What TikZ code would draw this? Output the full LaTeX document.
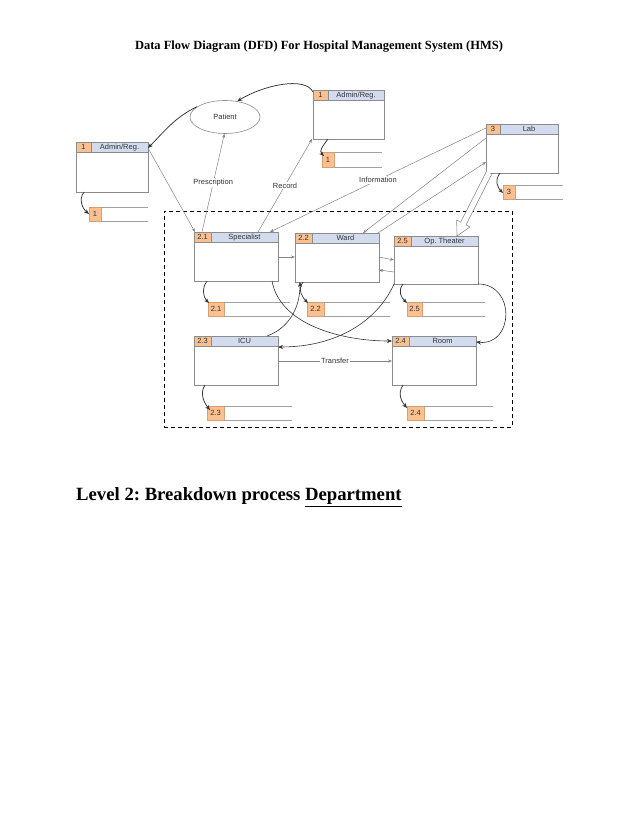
\documentclass[tikz,border=0pt]{standalone}
\usepackage{fontspec}
\setmainfont{Liberation Serif}
\newfontfamily\diagfont{Liberation Sans}
\usetikzlibrary{arrows.meta,calc,shapes.geometric}

\definecolor{hdrblue}{HTML}{D3DCEE}
\definecolor{numorange}{HTML}{FAC090}
\definecolor{numedge}{HTML}{D8A070}
\definecolor{boxgray}{HTML}{8C8C8C}
\definecolor{linegray}{HTML}{858585}
\definecolor{storegray}{HTML}{A0A0A0}
\definecolor{darkline}{HTML}{333333}
\definecolor{txtgray}{HTML}{333333}

\newcommand{\procbox}[8]{%
  \node[pbox, minimum width=#4pt, minimum height=#5pt, anchor=north west] (#1) at (#2,#3) {};
  \node[phead, minimum width=#4pt, anchor=north west] (#1h) at (#1.north west) {};
  \node[pnum, minimum width=#6pt, anchor=north west] (#1n) at (#1.north west) {#7};
  \node[ptext] (#1t) at ($(#1n.east)!0.5!(#1h.east)$) {#8};
}
\newcommand{\dstore}[7]{%
  \node[snum, minimum width=#4pt, minimum height=#5pt, anchor=north west] (#1) at (#2,#3) {#7};
  \draw[storeline] (#1.north east) -- (#6,#3);
  \draw[storeline] (#1.south east) -- (#6,{#3+#5});
}

\begin{document}
\frenchspacing
\begin{tikzpicture}[x=1pt,y=-1pt,
  pbox/.style={draw=boxgray, line width=0.6pt, fill=white, inner sep=0pt, outer sep=0pt},
  phead/.style={draw=boxgray, line width=0.5pt, fill=hdrblue, inner sep=0pt, outer sep=0pt, minimum height=10.5pt},
  pnum/.style={draw=boxgray, line width=0.5pt, fill=numorange, inner sep=0pt, outer sep=0pt, minimum height=10.5pt, font=\diagfont\fontsize{7.5}{7.5}\selectfont, text=txtgray},
  ptext/.style={font=\diagfont\fontsize{7.5}{8}\selectfont, text=txtgray, inner sep=0pt},
  snum/.style={draw=numedge, line width=0.4pt, fill=numorange, inner sep=0pt, outer sep=0pt, font=\diagfont\fontsize{7.5}{7.5}\selectfont, text=txtgray},
  storeline/.style={draw=storegray, line width=0.6pt},
  garr/.style={draw=linegray, line width=0.5pt, -{Stealth[length=4pt,width=3pt]}},
  darr/.style={draw=darkline, line width=0.75pt, -{Stealth[length=5pt,width=4pt]}},
  lbl/.style={font=\diagfont\fontsize{7.5}{8}\selectfont, text=txtgray, fill=white, inner sep=1pt},
  boundary/.style={draw=black, line width=0.9pt, dash pattern=on 4pt off 3pt, inner sep=0pt, outer sep=0pt}
]
\useasboundingbox (0,0) rectangle (638,826);
\fill[white] (0,0) rectangle (638,826);

% titles
\node[font=\bfseries\fontsize{12.5}{15}\selectfont] (title) at (319,47) {Data Flow Diagram (DFD) For Hospital Management System (HMS)};
\node[font=\bfseries\fontsize{18.7}{22}\selectfont, anchor=west, inner sep=0pt] (level) at (76,497) {Level 2: Breakdown process \underline{Department}};

% department boundary
\node[boundary, minimum width=348pt, minimum height=216pt] (dept) at (338,319) {};

% external entity
\node[draw=boxgray, line width=0.6pt, ellipse, minimum width=70pt, minimum height=33pt, inner sep=0pt, font=\diagfont\fontsize{7.5}{8}\selectfont, text=txtgray] (patient) at (225,117) {Patient};

% processes
\procbox{adl}{76}{142}{72}{50}{15}{1}{Admin/Reg.}
\procbox{adm}{313}{90}{71}{49}{15}{1}{Admin/Reg.}
\procbox{lab}{486}{124}{72}{49}{14}{3}{Lab}
\procbox{spec}{194}{232}{84}{49}{17}{2.1}{Specialist}
\procbox{ward}{295}{233}{84}{49}{17}{2.2}{Ward}
\procbox{ot}{394}{236}{84}{48}{17}{2.5}{Op. Theater}
\procbox{icu}{194}{336}{84}{49}{17}{2.3}{ICU}
\procbox{room}{392}{336}{84}{49}{17}{2.4}{Room}

% data stores
\dstore{sadl}{89}{207}{12}{14}{148}{1}
\dstore{sadm}{322}{152}{12}{15}{382}{1}
\dstore{slab}{503}{185}{12}{14}{563}{3}
\dstore{sspec}{208}{302}{16}{14}{290}{2.1}
\dstore{sward}{307}{302}{17}{14}{390}{2.2}
\dstore{sot}{407}{302}{15}{14}{485}{2.5}
\dstore{sicu}{207}{406}{17}{14}{292}{2.3}
\dstore{sroom}{407}{406}{17}{14}{493}{2.4}

% self arrows to stores
\draw[darr] ([xshift=8pt]adl.south west) .. controls +(-6,8) and +(-6,-5) .. (sadl.west);
\draw[darr] ([xshift=15pt]adm.south west) .. controls +(-6,8) and +(-5,-5) .. ([xshift=2pt,yshift=-4pt]sadm.north west);
\draw[darr] ([xshift=14pt]lab.south west) .. controls +(-6,8) and +(-5,-5) .. ([yshift=-8pt]slab.north west);
\draw[darr] ([xshift=13pt]spec.south west) .. controls +(-6,8) and +(-5,-5) .. ([xshift=1pt,yshift=-1pt]sspec.north west);
\draw[darr] ([xshift=8pt]ward.south west) .. controls +(-6,8) and +(-5,-5) .. ([xshift=1pt,yshift=-1pt]sward.north west);
\draw[darr] ([xshift=9pt]ot.south west) .. controls +(-6,8) and +(-5,-5) .. ([xshift=0pt,yshift=-1pt]sot.north west);
\draw[darr] ([xshift=11pt]icu.south west) .. controls +(-6,9) and +(-5,-6) .. ([xshift=3pt,yshift=-4pt]sicu.north west);
\draw[darr] ([xshift=11pt]room.south west) .. controls +(-6,9) and +(-5,-6) .. ([xshift=0pt,yshift=-2pt]sroom.north west);

% flows with patient
\draw[darr] ([yshift=-2pt]adm.north west) .. controls +(-8,-16) and +(26,-16) .. (patient.52);
\draw[darr] (patient.160) .. controls +(-22,10) and +(14,-14) .. ([yshift=-6pt]adl.north east);
\draw[garr] ([yshift=-6pt]adl.north east) -- ([xshift=1pt]spec.north west);
\draw[garr] ([xshift=8pt]spec.north west) -- node[lbl] {Prescription} (patient.268);
\draw[garr] ([xshift=-20pt]spec.north east) -- node[lbl] {Record} ([xshift=-1pt]adm.south west);

% lab flows
\draw[garr] ([yshift=-4pt]lab.north west) -- node[lbl] {Information} ([xshift=-8pt]spec.north east);
\draw[garr] ([yshift=-14pt]lab.north west) -- ([xshift=-16pt]ward.north east);
\draw[garr] ([xshift=-1pt]ward.north east) -- ([yshift=-38pt]lab.north west);

% hollow double arrow lab -> op theater
\coordinate (hs) at ([xshift=3pt]lab.south west);
\coordinate (ht) at ([xshift=-21pt]ot.north east);
\coordinate (hb) at ($(ht)!14pt!(hs)$);
\draw[draw=linegray, line width=0.55pt, fill=white, line join=miter]
  ($(hs)!3pt!90:(ht)$) -- ($(hb)!3pt!-90:(hs)$) -- ($(hb)!7.5pt!-90:(hs)$) -- (ht)
  -- ($(hb)!7.5pt!90:(hs)$) -- ($(hb)!3pt!90:(hs)$) -- ($(hs)!3pt!-90:(ht)$);

% internal flows
\draw[garr] ([yshift=-25pt]spec.north east) -- ([yshift=-24pt]ward.north west);
\draw[garr] ([yshift=-24pt]ward.north east) -- ([yshift=-24pt]ot.north west);
\draw[garr] ([yshift=-36pt]ot.north west) -- ([yshift=-37pt]ward.north east);

\draw[darr, line width=0.6pt] (ot.south west) .. controls +(-16,36) and +(60,0) .. ([yshift=-11pt]icu.north east);
\draw[darr, line width=0.6pt] ([xshift=-11pt]icu.north east) .. controls +(22,-8) and +(0,26) .. ([xshift=5pt]ward.south west);
\draw[darr, line width=0.6pt] ([xshift=-6pt]spec.south east) .. controls +(8,44) and +(-50,0) .. ([yshift=-5pt]room.north west);
\draw[darr, line width=0.6pt] (ot.south east) .. controls +(38,0) and +(38,4) .. ([yshift=-6pt]room.north east);
\draw[garr] ([yshift=-25pt]icu.north east) -- node[lbl] {Transfer} ([yshift=-25pt]room.north west);
\end{tikzpicture}
\end{document}
